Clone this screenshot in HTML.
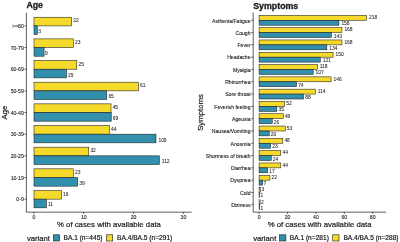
<!DOCTYPE html>
<html><head><meta charset="utf-8"><style>
html,body{margin:0;padding:0;background:#fff;}
body{width:400px;height:242px;overflow:hidden;}
svg{display:block;filter:blur(0.35px);font-family:"Liberation Sans", sans-serif;fill:#1a1a1a;}
svg text{fill:#1a1a1a;stroke:#1a1a1a;stroke-width:0.2px;}
svg text.v{stroke-width:0.05px;}
svg text.tk{stroke-width:0.1px;}
svg text.t{stroke-width:0.3px;}
</style></head><body>
<svg width="400" height="242" viewBox="0 0 400 242">
<rect width="400" height="242" fill="#fff"/>
<rect x="34.00" y="17.23" width="37.65" height="8.66" fill="#F5DA2C" stroke="#1a1a1a" stroke-width="0.55"/>
<text class="v" x="73.28" y="22.38" font-size="4.9">22</text>
<rect x="34.00" y="25.89" width="3.36" height="8.66" fill="#3290AD" stroke="#1a1a1a" stroke-width="0.55"/>
<text class="v" x="38.17" y="33.21" font-size="4.9">3</text>
<line x1="24.50" y1="25.89" x2="26.40" y2="25.89" stroke="#2a2a2a" stroke-width="0.75"/>
<text class="tk" x="23.80" y="28.14" font-size="5.15" text-anchor="end">&gt;=80</text>
<rect x="34.00" y="38.89" width="39.36" height="8.66" fill="#F5DA2C" stroke="#1a1a1a" stroke-width="0.55"/>
<text class="v" x="75.00" y="44.04" font-size="4.9">23</text>
<rect x="34.00" y="47.55" width="10.07" height="8.66" fill="#3290AD" stroke="#1a1a1a" stroke-width="0.55"/>
<text class="v" x="44.89" y="54.87" font-size="4.9">9</text>
<line x1="24.50" y1="47.55" x2="26.40" y2="47.55" stroke="#2a2a2a" stroke-width="0.75"/>
<text class="tk" x="23.80" y="49.80" font-size="5.15" text-anchor="end">70-79</text>
<rect x="34.00" y="60.55" width="42.78" height="8.66" fill="#F5DA2C" stroke="#1a1a1a" stroke-width="0.55"/>
<text class="v" x="78.42" y="65.70" font-size="4.9">25</text>
<rect x="34.00" y="69.21" width="32.45" height="8.66" fill="#3290AD" stroke="#1a1a1a" stroke-width="0.55"/>
<text class="v" x="68.09" y="76.52" font-size="4.9">29</text>
<line x1="24.50" y1="69.21" x2="26.40" y2="69.21" stroke="#2a2a2a" stroke-width="0.75"/>
<text class="tk" x="23.80" y="71.46" font-size="5.15" text-anchor="end">60-69</text>
<rect x="34.00" y="82.20" width="104.39" height="8.66" fill="#F5DA2C" stroke="#1a1a1a" stroke-width="0.55"/>
<text class="v" x="140.03" y="87.35" font-size="4.9">61</text>
<rect x="34.00" y="90.87" width="72.74" height="8.66" fill="#3290AD" stroke="#1a1a1a" stroke-width="0.55"/>
<text class="v" x="108.38" y="98.18" font-size="4.9">65</text>
<line x1="24.50" y1="90.87" x2="26.40" y2="90.87" stroke="#2a2a2a" stroke-width="0.75"/>
<text class="tk" x="23.80" y="93.12" font-size="5.15" text-anchor="end">50-59</text>
<rect x="34.00" y="103.86" width="77.01" height="8.66" fill="#F5DA2C" stroke="#1a1a1a" stroke-width="0.55"/>
<text class="v" x="112.64" y="109.01" font-size="4.9">45</text>
<rect x="34.00" y="112.53" width="77.22" height="8.66" fill="#3290AD" stroke="#1a1a1a" stroke-width="0.55"/>
<text class="v" x="112.85" y="119.84" font-size="4.9">69</text>
<line x1="24.50" y1="112.53" x2="26.40" y2="112.53" stroke="#2a2a2a" stroke-width="0.75"/>
<text class="tk" x="23.80" y="114.78" font-size="5.15" text-anchor="end">40-49</text>
<rect x="34.00" y="125.52" width="75.30" height="8.66" fill="#F5DA2C" stroke="#1a1a1a" stroke-width="0.55"/>
<text class="v" x="110.93" y="130.67" font-size="4.9">44</text>
<rect x="34.00" y="134.18" width="121.98" height="8.66" fill="#3290AD" stroke="#1a1a1a" stroke-width="0.55"/>
<text class="v" x="158.43" y="141.50" font-size="4.9">109</text>
<line x1="24.50" y1="134.18" x2="26.40" y2="134.18" stroke="#2a2a2a" stroke-width="0.75"/>
<text class="tk" x="23.80" y="136.43" font-size="5.15" text-anchor="end">30-39</text>
<rect x="34.00" y="147.18" width="54.76" height="8.66" fill="#F5DA2C" stroke="#1a1a1a" stroke-width="0.55"/>
<text class="v" x="90.40" y="152.33" font-size="4.9">32</text>
<rect x="34.00" y="155.84" width="125.34" height="8.66" fill="#3290AD" stroke="#1a1a1a" stroke-width="0.55"/>
<text class="v" x="161.79" y="163.15" font-size="4.9">112</text>
<line x1="24.50" y1="155.84" x2="26.40" y2="155.84" stroke="#2a2a2a" stroke-width="0.75"/>
<text class="tk" x="23.80" y="158.09" font-size="5.15" text-anchor="end">20-29</text>
<rect x="34.00" y="168.83" width="39.36" height="8.66" fill="#F5DA2C" stroke="#1a1a1a" stroke-width="0.55"/>
<text class="v" x="75.00" y="173.98" font-size="4.9">23</text>
<rect x="34.00" y="177.50" width="43.64" height="8.66" fill="#3290AD" stroke="#1a1a1a" stroke-width="0.55"/>
<text class="v" x="79.28" y="184.81" font-size="4.9">39</text>
<line x1="24.50" y1="177.50" x2="26.40" y2="177.50" stroke="#2a2a2a" stroke-width="0.75"/>
<text class="tk" x="23.80" y="179.75" font-size="5.15" text-anchor="end">10-19</text>
<rect x="34.00" y="190.49" width="27.38" height="8.66" fill="#F5DA2C" stroke="#1a1a1a" stroke-width="0.55"/>
<text class="v" x="63.02" y="195.64" font-size="4.9">16</text>
<rect x="34.00" y="199.16" width="12.31" height="8.66" fill="#3290AD" stroke="#1a1a1a" stroke-width="0.55"/>
<text class="v" x="47.94" y="206.47" font-size="4.9">11</text>
<line x1="24.50" y1="199.16" x2="26.40" y2="199.16" stroke="#2a2a2a" stroke-width="0.75"/>
<text class="tk" x="23.80" y="201.41" font-size="5.15" text-anchor="end">0-9</text>
<path d="M26.40 12.60 V212.15 H191.60" fill="none" stroke="#2a2a2a" stroke-width="0.75"/>
<line x1="34.00" y1="212.15" x2="34.00" y2="213.90" stroke="#2a2a2a" stroke-width="0.75"/>
<text class="tk" x="34.00" y="218.75" font-size="5.15" text-anchor="middle">0</text>
<line x1="83.80" y1="212.15" x2="83.80" y2="213.90" stroke="#2a2a2a" stroke-width="0.75"/>
<text class="tk" x="83.80" y="218.75" font-size="5.15" text-anchor="middle">10</text>
<line x1="133.60" y1="212.15" x2="133.60" y2="213.90" stroke="#2a2a2a" stroke-width="0.75"/>
<text class="tk" x="133.60" y="218.75" font-size="5.15" text-anchor="middle">20</text>
<line x1="183.40" y1="212.15" x2="183.40" y2="213.90" stroke="#2a2a2a" stroke-width="0.75"/>
<text class="tk" x="183.40" y="218.75" font-size="5.15" text-anchor="middle">30</text>
<rect x="259.10" y="15.36" width="107.49" height="4.92" fill="#F5DA2C" stroke="#1a1a1a" stroke-width="0.55"/>
<text class="v" x="369.04" y="19.10" font-size="4.9">218</text>
<rect x="259.10" y="20.28" width="79.84" height="4.92" fill="#3290AD" stroke="#1a1a1a" stroke-width="0.55"/>
<text class="v" x="341.40" y="25.25" font-size="4.9">158</text>
<line x1="251.30" y1="20.28" x2="253.20" y2="20.28" stroke="#2a2a2a" stroke-width="0.75"/>
<text class="tk" x="250.60" y="22.53" font-size="5.15" text-anchor="end">Asthenia/Fatigue</text>
<rect x="259.10" y="27.66" width="82.83" height="4.92" fill="#F5DA2C" stroke="#1a1a1a" stroke-width="0.55"/>
<text class="v" x="344.39" y="31.40" font-size="4.9">168</text>
<rect x="259.10" y="32.58" width="72.26" height="4.92" fill="#3290AD" stroke="#1a1a1a" stroke-width="0.55"/>
<text class="v" x="333.82" y="37.55" font-size="4.9">143</text>
<line x1="251.30" y1="32.58" x2="253.20" y2="32.58" stroke="#2a2a2a" stroke-width="0.75"/>
<text class="tk" x="250.60" y="34.83" font-size="5.15" text-anchor="end">Cough</text>
<rect x="259.10" y="39.96" width="82.83" height="4.92" fill="#F5DA2C" stroke="#1a1a1a" stroke-width="0.55"/>
<text class="v" x="344.39" y="43.70" font-size="4.9">168</text>
<rect x="259.10" y="44.88" width="67.72" height="4.92" fill="#3290AD" stroke="#1a1a1a" stroke-width="0.55"/>
<text class="v" x="329.27" y="49.85" font-size="4.9">134</text>
<line x1="251.30" y1="44.88" x2="253.20" y2="44.88" stroke="#2a2a2a" stroke-width="0.75"/>
<text class="tk" x="250.60" y="47.13" font-size="5.15" text-anchor="end">Fever</text>
<rect x="259.10" y="52.26" width="73.96" height="4.92" fill="#F5DA2C" stroke="#1a1a1a" stroke-width="0.55"/>
<text class="v" x="335.51" y="56.00" font-size="4.9">150</text>
<rect x="259.10" y="57.18" width="61.15" height="4.92" fill="#3290AD" stroke="#1a1a1a" stroke-width="0.55"/>
<text class="v" x="322.70" y="62.15" font-size="4.9">121</text>
<line x1="251.30" y1="57.18" x2="253.20" y2="57.18" stroke="#2a2a2a" stroke-width="0.75"/>
<text class="tk" x="250.60" y="59.43" font-size="5.15" text-anchor="end">Headache</text>
<rect x="259.10" y="64.56" width="58.18" height="4.92" fill="#F5DA2C" stroke="#1a1a1a" stroke-width="0.55"/>
<text class="v" x="319.73" y="68.30" font-size="4.9">118</text>
<rect x="259.10" y="69.48" width="54.07" height="4.92" fill="#3290AD" stroke="#1a1a1a" stroke-width="0.55"/>
<text class="v" x="315.62" y="74.45" font-size="4.9">107</text>
<line x1="251.30" y1="69.48" x2="253.20" y2="69.48" stroke="#2a2a2a" stroke-width="0.75"/>
<text class="tk" x="250.60" y="71.73" font-size="5.15" text-anchor="end">Myalgia</text>
<rect x="259.10" y="76.86" width="71.99" height="4.92" fill="#F5DA2C" stroke="#1a1a1a" stroke-width="0.55"/>
<text class="v" x="333.54" y="80.60" font-size="4.9">146</text>
<rect x="259.10" y="81.78" width="37.40" height="4.92" fill="#3290AD" stroke="#1a1a1a" stroke-width="0.55"/>
<text class="v" x="298.13" y="86.75" font-size="4.9">74</text>
<line x1="251.30" y1="81.78" x2="253.20" y2="81.78" stroke="#2a2a2a" stroke-width="0.75"/>
<text class="tk" x="250.60" y="84.03" font-size="5.15" text-anchor="end">Rhinorrhea</text>
<rect x="259.10" y="89.16" width="56.21" height="4.92" fill="#F5DA2C" stroke="#1a1a1a" stroke-width="0.55"/>
<text class="v" x="317.76" y="92.90" font-size="4.9">114</text>
<rect x="259.10" y="94.08" width="44.47" height="4.92" fill="#3290AD" stroke="#1a1a1a" stroke-width="0.55"/>
<text class="v" x="305.20" y="99.05" font-size="4.9">88</text>
<line x1="251.30" y1="94.08" x2="253.20" y2="94.08" stroke="#2a2a2a" stroke-width="0.75"/>
<text class="tk" x="250.60" y="96.33" font-size="5.15" text-anchor="end">Sore throat</text>
<rect x="259.10" y="101.46" width="25.64" height="4.92" fill="#F5DA2C" stroke="#1a1a1a" stroke-width="0.55"/>
<text class="v" x="286.37" y="105.20" font-size="4.9">52</text>
<rect x="259.10" y="106.38" width="17.69" height="4.92" fill="#3290AD" stroke="#1a1a1a" stroke-width="0.55"/>
<text class="v" x="278.42" y="111.35" font-size="4.9">35</text>
<line x1="251.30" y1="106.38" x2="253.20" y2="106.38" stroke="#2a2a2a" stroke-width="0.75"/>
<text class="tk" x="250.60" y="108.63" font-size="5.15" text-anchor="end">Feverish feeling</text>
<rect x="259.10" y="113.75" width="24.16" height="4.92" fill="#F5DA2C" stroke="#1a1a1a" stroke-width="0.55"/>
<text class="v" x="284.89" y="117.50" font-size="4.9">49</text>
<rect x="259.10" y="118.67" width="13.14" height="4.92" fill="#3290AD" stroke="#1a1a1a" stroke-width="0.55"/>
<text class="v" x="273.87" y="123.65" font-size="4.9">26</text>
<line x1="251.30" y1="118.67" x2="253.20" y2="118.67" stroke="#2a2a2a" stroke-width="0.75"/>
<text class="tk" x="250.60" y="120.92" font-size="5.15" text-anchor="end">Ageusia</text>
<rect x="259.10" y="126.05" width="26.13" height="4.92" fill="#F5DA2C" stroke="#1a1a1a" stroke-width="0.55"/>
<text class="v" x="286.87" y="129.80" font-size="4.9">53</text>
<rect x="259.10" y="130.97" width="10.11" height="4.92" fill="#3290AD" stroke="#1a1a1a" stroke-width="0.55"/>
<text class="v" x="270.84" y="135.95" font-size="4.9">20</text>
<line x1="251.30" y1="130.97" x2="253.20" y2="130.97" stroke="#2a2a2a" stroke-width="0.75"/>
<text class="tk" x="250.60" y="133.22" font-size="5.15" text-anchor="end">Nausea/Vomiting</text>
<rect x="259.10" y="138.35" width="23.67" height="4.92" fill="#F5DA2C" stroke="#1a1a1a" stroke-width="0.55"/>
<text class="v" x="284.40" y="142.10" font-size="4.9">48</text>
<rect x="259.10" y="143.27" width="11.62" height="4.92" fill="#3290AD" stroke="#1a1a1a" stroke-width="0.55"/>
<text class="v" x="272.36" y="148.25" font-size="4.9">23</text>
<line x1="251.30" y1="143.27" x2="253.20" y2="143.27" stroke="#2a2a2a" stroke-width="0.75"/>
<text class="tk" x="250.60" y="145.52" font-size="5.15" text-anchor="end">Anosmia</text>
<rect x="259.10" y="150.65" width="21.69" height="4.92" fill="#F5DA2C" stroke="#1a1a1a" stroke-width="0.55"/>
<text class="v" x="282.43" y="154.40" font-size="4.9">44</text>
<rect x="259.10" y="155.57" width="12.13" height="4.92" fill="#3290AD" stroke="#1a1a1a" stroke-width="0.55"/>
<text class="v" x="272.86" y="160.55" font-size="4.9">24</text>
<line x1="251.30" y1="155.57" x2="253.20" y2="155.57" stroke="#2a2a2a" stroke-width="0.75"/>
<text class="tk" x="250.60" y="157.82" font-size="5.15" text-anchor="end">Shortness of breath</text>
<rect x="259.10" y="162.95" width="21.69" height="4.92" fill="#F5DA2C" stroke="#1a1a1a" stroke-width="0.55"/>
<text class="v" x="282.43" y="166.70" font-size="4.9">44</text>
<rect x="259.10" y="167.87" width="8.59" height="4.92" fill="#3290AD" stroke="#1a1a1a" stroke-width="0.55"/>
<text class="v" x="269.33" y="172.85" font-size="4.9">17</text>
<line x1="251.30" y1="167.87" x2="253.20" y2="167.87" stroke="#2a2a2a" stroke-width="0.75"/>
<text class="tk" x="250.60" y="170.12" font-size="5.15" text-anchor="end">Diarrhea</text>
<rect x="259.10" y="175.25" width="10.85" height="4.92" fill="#F5DA2C" stroke="#1a1a1a" stroke-width="0.55"/>
<text class="v" x="271.58" y="179.00" font-size="4.9">22</text>
<rect x="259.10" y="180.17" width="3.54" height="4.92" fill="#3290AD" stroke="#1a1a1a" stroke-width="0.55"/>
<text class="v" x="263.45" y="185.15" font-size="4.9">7</text>
<line x1="251.30" y1="180.17" x2="253.20" y2="180.17" stroke="#2a2a2a" stroke-width="0.75"/>
<text class="tk" x="250.60" y="182.42" font-size="5.15" text-anchor="end">Dyspnea</text>
<rect x="259.10" y="187.55" width="1.48" height="4.92" fill="#F5DA2C" stroke="#1a1a1a" stroke-width="0.55"/>
<text class="v" x="261.40" y="191.30" font-size="4.9">3</text>
<rect x="259.10" y="192.47" width="0.51" height="4.92" fill="#333" stroke="#1a1a1a" stroke-width="0.55"/>
<text class="v" x="260.42" y="197.45" font-size="4.9">1</text>
<line x1="251.30" y1="192.47" x2="253.20" y2="192.47" stroke="#2a2a2a" stroke-width="0.75"/>
<text class="tk" x="250.60" y="194.72" font-size="5.15" text-anchor="end">Cold</text>
<rect x="259.10" y="199.85" width="0.99" height="4.92" fill="#F5DA2C" stroke="#1a1a1a" stroke-width="0.55"/>
<text class="v" x="260.90" y="203.60" font-size="4.9">2</text>
<rect x="259.10" y="204.77" width="0.51" height="4.92" fill="#333" stroke="#1a1a1a" stroke-width="0.55"/>
<text class="v" x="260.42" y="209.75" font-size="4.9">1</text>
<line x1="251.30" y1="204.77" x2="253.20" y2="204.77" stroke="#2a2a2a" stroke-width="0.75"/>
<text class="tk" x="250.60" y="207.02" font-size="5.15" text-anchor="end">Diziness</text>
<path d="M253.20 12.60 V212.15 H386.00" fill="none" stroke="#2a2a2a" stroke-width="0.75"/>
<line x1="259.10" y1="212.15" x2="259.10" y2="213.90" stroke="#2a2a2a" stroke-width="0.75"/>
<text class="tk" x="259.10" y="218.75" font-size="5.15" text-anchor="middle">0</text>
<line x1="287.50" y1="212.15" x2="287.50" y2="213.90" stroke="#2a2a2a" stroke-width="0.75"/>
<text class="tk" x="287.50" y="218.75" font-size="5.15" text-anchor="middle">20</text>
<line x1="315.90" y1="212.15" x2="315.90" y2="213.90" stroke="#2a2a2a" stroke-width="0.75"/>
<text class="tk" x="315.90" y="218.75" font-size="5.15" text-anchor="middle">40</text>
<line x1="344.30" y1="212.15" x2="344.30" y2="213.90" stroke="#2a2a2a" stroke-width="0.75"/>
<text class="tk" x="344.30" y="218.75" font-size="5.15" text-anchor="middle">60</text>
<line x1="372.70" y1="212.15" x2="372.70" y2="213.90" stroke="#2a2a2a" stroke-width="0.75"/>
<text class="tk" x="372.70" y="218.75" font-size="5.15" text-anchor="middle">80</text>
<text x="26.4" y="8.25" font-size="8.8" font-weight="bold" class="t">Age</text>
<text x="253.25" y="8.5" font-size="8.8" font-weight="bold" class="t">Symptoms</text>
<text transform="translate(7.4 112.53) rotate(-90)" font-size="7.75" text-anchor="middle">Age</text>
<text transform="translate(202.7 112.53) rotate(-90)" font-size="7.75" text-anchor="middle">Symptoms</text>
<text x="109.00" y="226.9" font-size="7.75" text-anchor="middle">% of cases with available data</text>
<text x="319.60" y="226.9" font-size="7.75" text-anchor="middle">% of cases with available data</text>
<text x="26.90" y="240.6" font-size="7.7">variant</text>
<rect x="53.30" y="234.8" width="6.3" height="6.2" fill="#3290AD" stroke="#1a1a1a" stroke-width="0.6"/>
<text x="63.50" y="239.9" font-size="6.6">BA.1 (n=445)</text>
<rect x="106.40" y="234.8" width="6.3" height="6.2" fill="#F5DA2C" stroke="#1a1a1a" stroke-width="0.6"/>
<text x="117.10" y="239.9" font-size="6.6">BA.4/BA.5 (n=291)</text>
<text x="253.20" y="240.6" font-size="7.7">variant</text>
<rect x="279.60" y="234.8" width="6.3" height="6.2" fill="#3290AD" stroke="#1a1a1a" stroke-width="0.6"/>
<text x="289.80" y="239.9" font-size="6.6">BA.1 (n=281)</text>
<rect x="332.70" y="234.8" width="6.3" height="6.2" fill="#F5DA2C" stroke="#1a1a1a" stroke-width="0.6"/>
<text x="343.40" y="239.9" font-size="6.6">BA.4/BA.5 (n=288)</text>
</svg>
</body></html>
